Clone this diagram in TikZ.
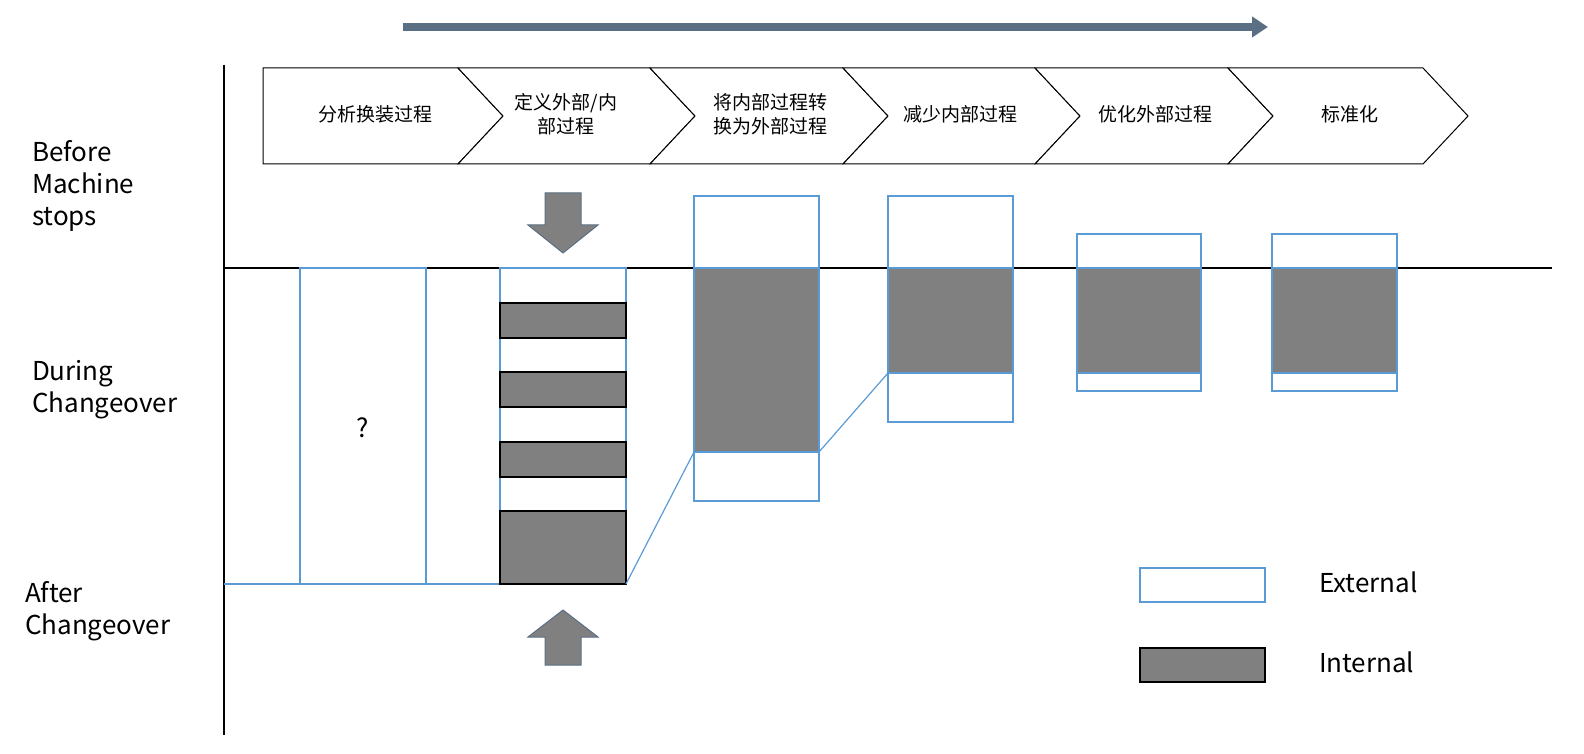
\documentclass[tikz,border=0pt]{standalone}
\usepackage{fontspec}
\usetikzlibrary{arrows.meta}
\setmainfont{Noto Sans CJK SC}
\begin{document}
\begin{tikzpicture}[x=0.5pt,y=-0.5pt,
 ext/.style={draw=bl,fill=white,line width=0.6pt},
 int/.style={draw=black,fill=gr,line width=0.6pt},
 intb/.style={draw=bl,fill=gr,line width=0.6pt},
 chev/.style={draw=black,fill=white,line width=0.5pt},
 lab/.style={font=\fontsize{13}{16}\selectfont,align=left,anchor=west},
 ct/.style={font=\fontsize{9.5}{12}\selectfont,align=center}]
\definecolor{bl}{HTML}{5B9BD5}\definecolor{gr}{HTML}{808080}\definecolor{ar}{HTML}{5A6E84}
\useasboundingbox (0,0) rectangle (1584,754);
\coordinate (t1) at (403,27);\coordinate (t2) at (1268,27);
\draw[ar,line width=4pt,-{Triangle[length=8pt,width=10pt]}] (t1)--(t2);
\coordinate (v1) at (224,65);\coordinate (v2) at (224,735);
\draw[line width=0.8pt] (v1)--(v2);
\coordinate (h1) at (224,268);\coordinate (h2) at (1552,268);
\draw[line width=0.8pt] (h1)--(h2);
% chevrons
\draw[chev] (263,68)--(458,68)--(503,116)--(458,164)--(263,164)--cycle;
\foreach \a/\b in {458/650,650/843,843/1035,1035/1228,1228/1423}{
 \draw[chev] (\a,68)--(\b,68)--(\b+45,116)--(\b,164)--(\a,164)--(\a+45,116)--cycle;}
\node[ct] (c1) at (375,114) {分析换装过程};
\node[ct] (c2) at (566,114) {定义外部/内\\部过程};
\node[ct] (c3) at (770,114) {将内部过程转\\换为外部过程};
\node[ct] (c4) at (960,114) {减少内部过程};
\node[ct] (c5) at (1155,114) {优化外部过程};
\node[ct] (c6) at (1350,114) {标准化};
\node[lab] (l1) at (25,186) {Before\\Machine\\stops};
\node[lab] (l2) at (25,390) {During\\Changeover};
\node[lab] (l3) at (18,611) {After\\Changeover};
% col 1
\coordinate (b1) at (224,584);\coordinate (b2) at (626,584);
\draw[bl,line width=0.6pt] (b1)--(b2);
\draw[ext] (300,268) rectangle (426,584);
\node[font=\fontsize{13}{16}\selectfont] (q) at (363,428) {?};
% col 2
\draw[ext] (500,268) rectangle (626,584);
\foreach \y/\z in {303/338,372/407,442/477,511/584}\draw[int] (500,\y) rectangle (626,\z);
\draw[fill=gr,draw=ar,line width=0.5pt] (545,193)--(581,193)--(581,225)--(598,225)--(563,253)--(528,225)--(545,225)--cycle;
\draw[fill=gr,draw=ar,line width=0.5pt] (545,665)--(581,665)--(581,637)--(598,637)--(563,610)--(528,637)--(545,637)--cycle;
% col 3-6
\draw[ext] (694,196) rectangle (819,501);\draw[intb] (694,268) rectangle (819,452);
\draw[ext] (888,196) rectangle (1013,422);\draw[intb] (888,268) rectangle (1013,373);
\draw[ext] (1077,234) rectangle (1201,391);\draw[intb] (1077,268) rectangle (1201,373);
\draw[ext] (1272,234) rectangle (1397,391);\draw[intb] (1272,268) rectangle (1397,373);
\draw[bl,line width=0.6pt] (626,584)--(694,452);
\draw[bl,line width=0.6pt] (819,452)--(888,373);
% legend
\draw[ext] (1140,568) rectangle (1265,602);
\draw[int] (1140,648) rectangle (1265,682);
\node[lab] (e) at (1312,582) {External};
\node[lab] (i) at (1312,662) {Internal};
\end{tikzpicture}
\end{document}
